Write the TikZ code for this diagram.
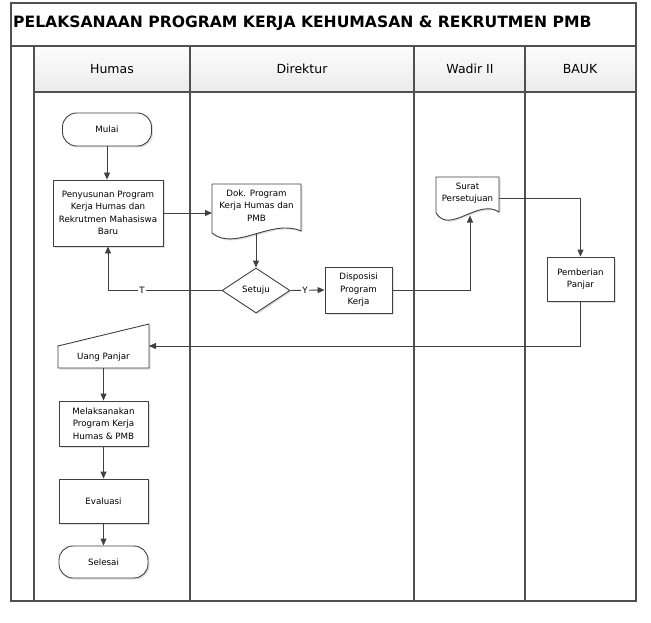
\documentclass[tikz,border=0pt]{standalone}
\usepackage{fontspec}
\setmainfont{DejaVu Sans}
\usetikzlibrary{arrows.meta,shapes.geometric,shadows,calc}
\definecolor{ln}{HTML}{404040}
\definecolor{fr}{HTML}{505050}
\pgfdeclarelayer{bg}
\pgfsetlayers{bg,main}
\tikzset{
  frame/.style={draw=fr, line width=1.2pt},
  shd/.style={drop shadow={opacity=0.25, shadow xshift=1.5pt, shadow yshift=-1.5pt, fill=gray}},
  shapeline/.style={draw=ln, line width=0.9pt, fill=white, shd},
  boxnode/.style={shapeline, rectangle, align=center, inner sep=1pt, font=\fontsize{8.7}{12.5}\selectfont},
  termnode/.style={shapeline, rectangle, rounded corners=14pt, align=center, font=\fontsize{8.7}{12.5}\selectfont},
  txtnode/.style={align=center, inner sep=1pt, font=\fontsize{8.7}{12.5}\selectfont},
  decnode/.style={shapeline, diamond, inner sep=0pt, font=\fontsize{8.7}{12.5}\selectfont},
  headnode/.style={font=\fontsize{12.5}{14}\selectfont},
  conn/.style={draw=ln, line width=0.9pt},
  arr/.style={conn, -{Triangle[length=7pt,width=6pt]}},
  lbl/.style={fill=white, inner sep=1pt, font=\fontsize{8.7}{10}\selectfont}
}
\begin{document}
\begin{tikzpicture}[x=1pt,y=-1pt]
\useasboundingbox (0,0) rectangle (651,623);
% header shading
\shade[top color=gray!2, bottom color=gray!16] (34,46) rectangle (636,92);
% frame and lanes
\draw[frame] (11,3) rectangle (636,601);
\draw[frame] (11,46) -- (636,46);
\draw[frame] (34,92) -- (636,92);
\foreach \x in {34,190,414,525} \draw[frame] (\x,46) -- (\x,601);
% title and headers
\node[anchor=west, font=\bfseries\fontsize{15.6}{18}\selectfont, inner sep=0pt] (title) at (13,23) {PELAKSANAAN PROGRAM KERJA KEHUMASAN \& REKRUTMEN PMB};
\node[headnode] (hhumas) at (112,69) {Humas};
\node[headnode] (hdir) at (302,69) {Direktur};
\node[headnode] (hwadir) at (470,69) {Wadir II};
\node[headnode] (hbauk) at (580,69) {BAUK};
% shapes
\node[termnode, minimum width=89pt, minimum height=33pt] (mulai) at (107,129.5) {Mulai};
\node[boxnode, minimum width=110pt, minimum height=66pt] (peny) at (108,213) {Penyusunan Program\\Kerja Humas dan\\Rekrutmen Mahasiswa\\Baru};
\path[shapeline] (212,184) -- (301,184) -- (301,231) .. controls (272,218) and (235,252) .. (212,233) -- cycle;
\node[txtnode] (dok) at (256.5,205.5) {Dok. Program\\Kerja Humas dan\\PMB};
\node[decnode, minimum width=68pt, minimum height=45pt] (setuju) at (256,290.5) {Setuju};
\node[boxnode, minimum width=67pt, minimum height=46pt] (disp) at (358.5,290) {Disposisi\\Program\\Kerja};
\path[shapeline] (436,177) -- (499,177) -- (499,212) .. controls (478,198) and (450,235) .. (436,213) -- cycle;
\node[txtnode] (surat) at (467.5,193) {Surat\\Persetujuan};
\node[boxnode, minimum width=67pt, minimum height=44pt] (pemb) at (580.5,279) {Pemberian\\Panjar};
\path[shapeline] (58,346) -- (149,324) -- (149,368) -- (58,368) -- cycle;
\node[txtnode] (uang) at (103.5,357) {Uang Panjar};
\node[boxnode, minimum width=89pt, minimum height=45pt] (mel) at (103.5,423.5) {Melaksanakan\\Program Kerja\\Humas \& PMB};
\node[boxnode, minimum width=89pt, minimum height=44pt] (eval) at (103.5,501) {Evaluasi};
\node[termnode, minimum width=89pt, minimum height=32pt] (selesai) at (103.5,562) {Selesai};
% connector end points on drawn shapes
\coordinate (dokL) at (212,213);
\coordinate (dokB) at (256,234);
\coordinate (suratB) at (470,215.5);
\coordinate (suratR) at (499,198);
\coordinate (uangR) at (149,346);
\coordinate (uangB) at (103.5,368);
% connectors
\draw[arr] (mulai.south) -- (mulai.south |- peny.north);
\draw[arr] (peny.east |- dokL) -- (dokL);
\draw[arr] (dokB) -- (setuju.north);
\draw[arr] (setuju.west) -| node[lbl, pos=0.35] {T} (peny.south);
\draw[arr] (setuju.east) -- node[lbl, pos=0.43] {Y} (disp.west);
\draw[arr] (disp.east) -| (suratB);
\draw[arr] (suratR) -| (pemb.north);
\draw[arr] (pemb.south) |- (uangR);
\draw[arr] (uangB) -- (mel.north);
\draw[arr] (mel) -- (eval);
\draw[arr] (eval) -- (selesai);
\end{tikzpicture}
\end{document}
